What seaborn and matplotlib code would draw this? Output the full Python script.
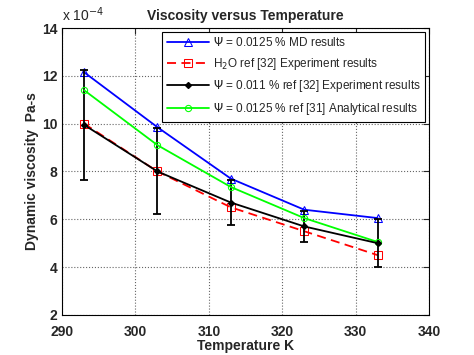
import numpy as np
import pandas as pd
import matplotlib
matplotlib.use("Agg")
import matplotlib.pyplot as plt
import seaborn as sns

# Data (viscosity in units of 1e-4 Pa-s)
temperature = [293, 303, 313, 323, 333]
md_results = [12.15, 9.85, 7.70, 6.40, 6.05]
water_exp = [10.0, 8.0, 6.5, 5.5, 4.5]
exp_011 = [9.95, 8.0, 6.7, 5.7, 5.0]
exp_011_err = [2.3, 1.8, 0.95, 0.65, 1.0]
analytical = [11.4, 9.1, 7.35, 6.05, 5.05]

labels = [
    r"$\Psi$ = 0.0125 % MD results",
    r"H$_2$O ref [32] Experiment results",
    r"$\Psi$ = 0.011 % ref [32] Experiment results",
    r"$\Psi$ = 0.0125 % ref [31] Analytical results",
]

sns.set_style("white")
plt.rcParams["font.family"] = ["Liberation Sans", "DejaVu Sans"]

fig = plt.figure(figsize=(4.74, 3.55), dpi=100)
ax = fig.add_axes([0.131, 0.113, 0.774, 0.808])

sns.lineplot(x=temperature, y=md_results, color="#0000ff", marker="^",
             markerfacecolor="none", markeredgecolor="#0000ff", markersize=6,
             lw=1.3, label=labels[0], ax=ax)
sns.lineplot(x=temperature, y=water_exp, color="#ff0000", marker="s",
             markerfacecolor="none", markeredgecolor="#ff0000", markersize=6,
             lw=1.3, dashes=(5, 3), label=labels[1], ax=ax)
ax.errorbar(temperature, exp_011, yerr=exp_011_err, color="black", marker="D",
            markersize=3, lw=1.3, capsize=3, capthick=1.3, label=labels[2])
sns.lineplot(x=temperature, y=analytical, color="#00ff00", marker="o",
             markerfacecolor="none", markeredgecolor="#00ff00", markersize=4.5,
             lw=1.3, label=labels[3], ax=ax)

ax.set_xlim(290, 340)
ax.set_ylim(2, 14)
ax.set_xticks(np.arange(290, 341, 10))
ax.set_yticks(np.arange(2, 15, 2))
ax.grid(True, linestyle=":", color="#666666", lw=0.8)
ax.tick_params(direction="in", top=True, right=True, length=4, width=0.8,
               labelsize=10)
ax.tick_params(axis="x", pad=7)
for lbl in ax.get_xticklabels() + ax.get_yticklabels():
    lbl.set_fontweight("bold")
for sp in ax.spines.values():
    sp.set_linewidth(0.8)
    sp.set_color("black")

ax.set_title("Viscosity versus Temperature", fontsize=10, fontweight="bold", pad=6)
ax.set_xlabel("Temperature K", fontsize=10, fontweight="bold", labelpad=0)
ax.set_ylabel("Dynamic viscosity  Pa-s", fontsize=10, fontweight="bold", labelpad=2)
ax.text(0.0, 1.015, r"x 10$^{-4}$", transform=ax.transAxes, fontsize=10,
        ha="left", va="bottom")

h, l = ax.get_legend_handles_labels()
handles = []
for s in labels:
    hd = h[l.index(s)]
    # for the error bar series show only its line in the legend
    handles.append(hd[0] if isinstance(hd, tuple) else hd)
leg = ax.legend(handles, labels, loc="upper right",
                fontsize=8.5, frameon=True, fancybox=False, edgecolor="black",
                framealpha=1, borderaxespad=0.3, handlelength=3.6,
                handletextpad=0.3, labelspacing=0.55, borderpad=0.4)
leg.get_frame().set_linewidth(0.8)

fig.savefig("out.png", dpi=100)
